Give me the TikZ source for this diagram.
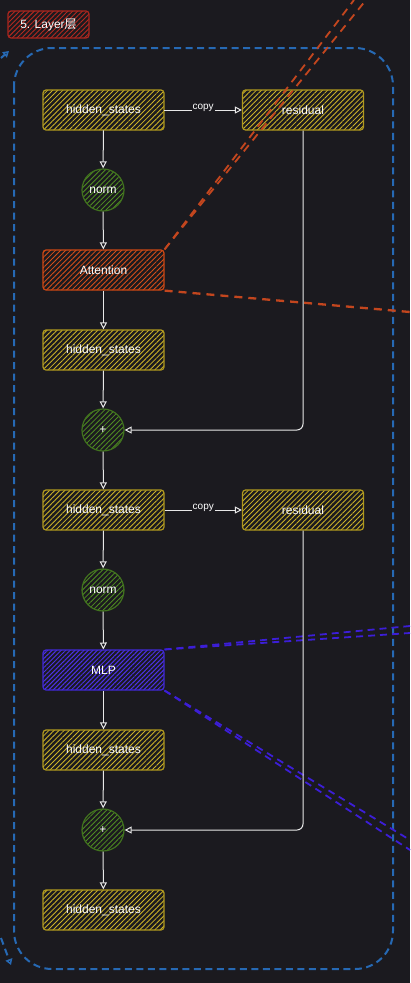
\documentclass[tikz,border=0pt]{standalone}
\usepackage{fontspec}
\setmainfont{Liberation Sans}
\newfontfamily\cjk{Noto Sans CJK SC}
\usetikzlibrary{arrows.meta,patterns.meta}
\definecolor{bg}{RGB}{27,26,31}
\definecolor{ystroke}{RGB}{175,152,30}
\definecolor{yhatch}{RGB}{205,180,40}
\definecolor{gstroke}{RGB}{65,115,30}
\definecolor{ghatch}{RGB}{80,140,35}
\definecolor{ostroke}{RGB}{205,72,20}
\definecolor{ohatch}{RGB}{215,80,25}
\definecolor{vstroke}{RGB}{65,40,215}
\definecolor{vhatch}{RGB}{75,50,230}
\definecolor{rstroke}{RGB}{170,38,30}
\definecolor{rhatch}{RGB}{180,42,32}
\definecolor{fblue}{RGB}{38,105,180}
\definecolor{redline}{RGB}{195,70,30}
\definecolor{vline}{RGB}{60,30,215}
\definecolor{arrcol}{RGB}{232,232,232}
\tikzset{
  hatchbox/.style={line width=1.2pt, rounded corners=3pt, minimum width=121pt, minimum height=40pt, inner sep=0pt, text=white, font=\fontsize{12}{14}\selectfont},
  ybox/.style={hatchbox, draw=ystroke, pattern={Lines[angle=45,distance=3.6pt,line width=0.85pt]}, pattern color=yhatch},
  obox/.style={hatchbox, draw=ostroke, pattern={Lines[angle=45,distance=3.6pt,line width=0.85pt]}, pattern color=ohatch},
  vbox/.style={hatchbox, draw=vstroke, pattern={Lines[angle=45,distance=3.2pt,line width=1pt]}, pattern color=vhatch},
  gcirc/.style={circle, minimum size=42pt, inner sep=0pt, line width=1.2pt, draw=gstroke, pattern={Lines[angle=45,distance=3.6pt,line width=0.85pt]}, pattern color=ghatch, text=white, font=\fontsize{12}{14}\selectfont},
  titlebox/.style={line width=1.2pt, rounded corners=3pt, minimum width=81pt, minimum height=27pt, inner sep=0pt, draw=rstroke, pattern={Lines[angle=45,distance=3.4pt,line width=0.9pt]}, pattern color=rhatch, text=white, font=\fontsize{12}{14}\selectfont},
  arr/.style={draw=arrcol, line width=1pt, -{Triangle[open, length=7pt, width=7pt]}},
  copylbl/.style={fill=bg, text=white, inner sep=1pt, font=\fontsize{10}{12}\selectfont},
  framestyle/.style={draw=fblue, line width=2pt, dash pattern=on 7pt off 4.5pt},
  attdash/.style={draw=redline, line width=2.3pt, dash pattern=on 8pt off 6pt},
  mlpdash/.style={draw=vline, line width=1.8pt, dash pattern=on 7pt off 5pt}
}
\begin{document}
\begin{tikzpicture}[x=1pt,y=-1pt]
\fill[bg] (0,0) rectangle (410,983);
\useasboundingbox (0,0) rectangle (410,983);

% frame
\draw[framestyle, rounded corners=38pt] (14,48) rectangle (393,969);
\coordinate (la1) at (1,58);
\coordinate (la2) at (9,51);
\coordinate (lb1) at (1,938);
\coordinate (lb2) at (11,965);
\draw[framestyle, -{Triangle[open, length=6pt, width=7pt]}] (la1) -- (la2);
\draw[framestyle, -{Triangle[open, length=6pt, width=7pt]}] (lb1) -- (lb2);

% title
\node[titlebox] (title) at (48.5,24.5) {5. Layer{\cjk 层}};

% nodes
\node[ybox] (hs1) at (103.5,110) {hidden\_states};
\node[ybox] (res1) at (303,110) {residual};
\node[gcirc] (norm1) at (103,190) {norm};
\node[obox] (att) at (103.5,270) {Attention};
\node[ybox] (hs2) at (103.5,350) {hidden\_states};
\node[gcirc] (plus1) at (103,430) {+};
\node[ybox] (hs3) at (103.5,510) {hidden\_states};
\node[ybox] (res2) at (303,510) {residual};
\node[gcirc] (norm2) at (103,590) {norm};
\node[vbox] (mlp) at (103.5,670) {MLP};
\node[ybox] (hs4) at (103.5,750) {hidden\_states};
\node[gcirc] (plus2) at (103,830) {+};
\node[ybox] (hs5) at (103.5,910) {hidden\_states};

% dashed links out of the picture
\coordinate (ra) at (354,0);
\coordinate (rb) at (366,0);
\coordinate (rc) at (410,312);
\coordinate (va) at (410,626);
\coordinate (vb) at (410,633);
\coordinate (vc) at (410,840);
\coordinate (vd) at (410,850);
\draw[attdash, line width=1.8pt] (att.north east) -- (ra);
\draw[attdash, line width=1.8pt] (att.north east) -- (rb);
\draw[attdash] (att.south east) -- (rc);
\draw[mlpdash] (mlp.north east) -- (va);
\draw[mlpdash] (mlp.north east) -- (vb);
\draw[mlpdash] (mlp.south east) -- (vc);
\draw[mlpdash] (mlp.south east) -- (vd);

% arrows
\draw[arr] (hs1) -- node[copylbl, yshift=2pt] {copy} (res1);
\draw[arr] (hs1) -- (norm1);
\draw[arr] (norm1) -- (att);
\draw[arr] (att) -- (hs2);
\draw[arr] (hs2) -- (plus1);
\draw[arr, rounded corners=6pt] (res1.south) -- (res1.south |- plus1) -- (plus1);
\draw[arr] (plus1) -- (hs3);
\draw[arr] (hs3) -- node[copylbl, yshift=2pt] {copy} (res2);
\draw[arr] (hs3) -- (norm2);
\draw[arr] (norm2) -- (mlp);
\draw[arr] (mlp) -- (hs4);
\draw[arr] (hs4) -- (plus2);
\draw[arr, rounded corners=6pt] (res2.south) -- (res2.south |- plus2) -- (plus2);
\draw[arr] (plus2) -- (hs5);
\end{tikzpicture}
\end{document}
